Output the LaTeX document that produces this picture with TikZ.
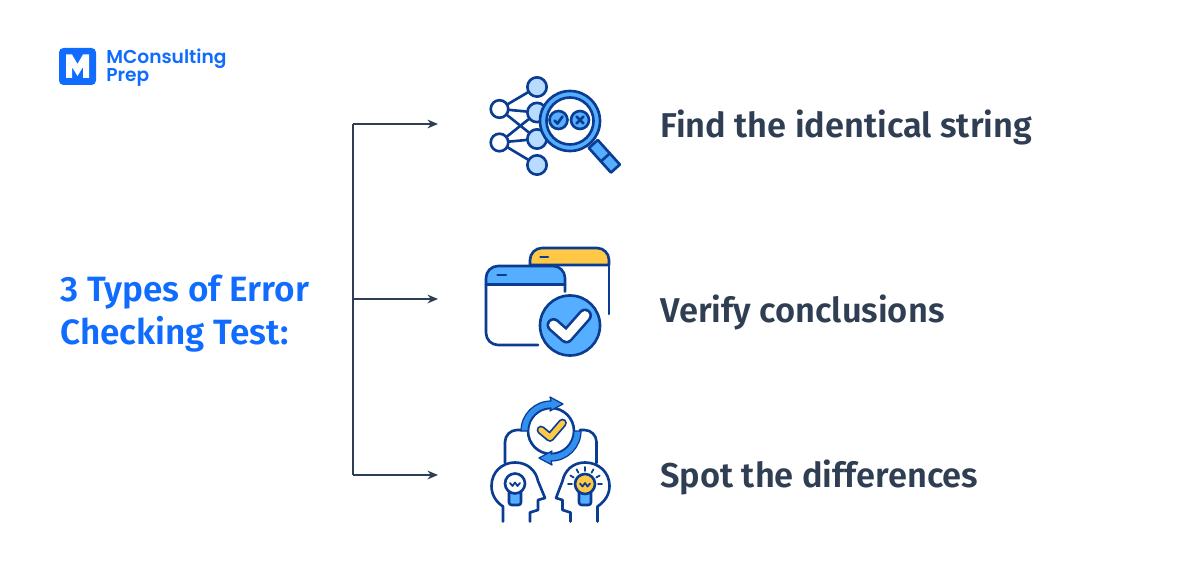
\documentclass[tikz,border=0pt]{standalone}
\usepackage{xcolor}
\usepackage{fontspec}
\usepackage{tikz}
\usetikzlibrary{arrows.meta,calc}
\setmainfont{Fira Sans}[UprightFont=* Medium,BoldFont=* SemiBold]
\newfontfamily\logofont{Poppins}[UprightFont=* SemiBold]
\definecolor{brandblue}{RGB}{15,108,255}
\definecolor{inkblue}{RGB}{10,60,145}
\definecolor{midblue}{RGB}{85,174,255}
\definecolor{ringblue}{RGB}{50,145,240}
\definecolor{paleblue}{RGB}{184,220,255}
\definecolor{warmyellow}{RGB}{255,200,70}
\definecolor{slatetext}{RGB}{47,62,82}
\tikzset{
  inkline/.style={draw=inkblue,line width=1.5pt,line cap=round,line join=round},
  leftdot/.style={circle,inkline,fill=white,minimum size=10pt,inner sep=0pt},
  rightdot/.style={circle,inkline,fill=paleblue,minimum size=11pt,inner sep=0pt},
  rowlabel/.style={anchor=base west,font=\bfseries\fontsize{19.6}{24}\selectfont,text=slatetext,inner sep=0pt},
  headline/.style={anchor=base west,font=\bfseries\fontsize{20}{24}\selectfont,text=brandblue,inner sep=0pt},
  logotext/.style={anchor=base west,font=\logofont\fontsize{10.6}{13}\selectfont,text=brandblue,inner sep=0pt},
  branch/.style={draw=slatetext,line width=0.8pt,-{Stealth[length=6pt,width=5pt]}}
}
\begin{document}
\begin{tikzpicture}[x=0.02cm,y=-0.02cm]
\useasboundingbox (0,0) rectangle (1200,587);
% Logo
\fill[brandblue,rounded corners=2.5pt] (59,48) rectangle (96,85);
\fill[white] (66,78) -- (66,54.5) -- (72,54.5) -- (77.5,64) -- (83,54.5) -- (89,54.5) -- (89,78) -- (83,78)
  -- (83,67) -- (77.5,76) -- (72,67) -- (72,78) -- cycle;
\node[logotext] (logotop) at (106,64) {MConsulting};
\node[logotext] (logobottom) at (106,81.5) {Prep};
% Title
\node[headline] (titletop) at (60,302) {3 Types of Error};
\node[headline] (titlebottom) at (60,345) {Checking Test:};
% Branches
\coordinate (trunktop) at (353,124);
\coordinate (trunkmid) at (353,299);
\coordinate (trunkbottom) at (353,475);
\coordinate (arrowtop) at (438,124);
\coordinate (arrowmid) at (438,299);
\coordinate (arrowbottom) at (438,475);
\draw[draw=slatetext,line width=0.8pt] (trunktop) -- (trunkbottom);
\draw[branch] (trunktop) -- (arrowtop);
\draw[branch] (trunkmid) -- (arrowmid);
\draw[branch] (trunkbottom) -- (arrowbottom);
% Labels
\node[rowlabel] (labeltop) at (660,137.5) {Find the identical string};
\node[rowlabel] (labelmid) at (660,322.5) {Verify conclusions};
\node[rowlabel] (labelbottom) at (660,487.5) {Spot the differences};
% First icon: network
\node[leftdot] (inA) at (499.5,109) {};
\node[leftdot] (inB) at (499.5,142.5) {};
\node[rightdot] (outA) at (537,87) {};
\node[rightdot] (outB) at (537,112.5) {};
\node[rightdot] (outC) at (537,139) {};
\node[rightdot] (outD) at (537,165) {};
\foreach \dst in {outA,outB,outC}
  \draw[inkline] (inA) -- (\dst);
\foreach \dst in {outB,outC,outD}
  \draw[inkline] (inB) -- (\dst);
% First icon: magnifier
\draw[inkline,fill=midblue,rotate around={-48:(596,147)}] (592,141) rectangle (625,153);
\draw[inkline,rotate around={-48:(596,147)}] (610,141) -- (610,153);
\draw[inkline,fill=midblue] (570,121) circle (30);
\draw[inkline,fill=white] (570,121) circle (23.5);
\draw[inkline,fill=midblue] (558.5,120) circle (9);
\draw[inkline,fill=midblue] (580,120) circle (9);
\draw[inkline] (554.5,120.5) -- (557.5,123.5) -- (562.5,116.5);
\draw[inkline] (576.5,116.5) -- (583.5,123.5) (583.5,116.5) -- (576.5,123.5);
% Second icon: back window
\fill[white] (530,265) rectangle (609,314);
\draw[inkline,fill=warmyellow] (530,265) -- (530,260) arc (-180:-90:12) -- (597,248) arc (-90:0:12) -- (609,265) -- cycle;
\draw[inkline] (609,265) -- (609,314);
\draw[inkline] (540.5,257) -- (548,257);
% Second icon: front window
\draw[inkline,fill=white] (538,345) -- (498,345) arc (-270:-180:12) -- (486,284.5) -- (565,284.5) -- (565,291.5);
\draw[inkline,fill=midblue] (486,284.5) -- (486,278) arc (-180:-90:12) -- (553,266) arc (-90:0:12) -- (565,284.5) -- cycle;
\draw[inkline] (497.5,275) -- (506,275);
% Second icon: badge
\draw[inkline,fill=midblue] (570,325.5) circle (30);
\draw[draw=inkblue,line width=8pt,line cap=round,line join=round] (553.5,325) -- (566.5,336.5) -- (585,315.5);
\draw[draw=white,line width=5pt,line cap=round,line join=round] (553.5,325) -- (566.5,336.5) -- (585,315.5);
% Third icon: links to the heads
\draw[inkline] (521.5,430) -- (517,430) arc (-90:-180:12) -- (505,463);
\draw[inkline] (580,430) -- (584.5,430) arc (-90:0:12) -- (596.5,463);
% Third icon: cycle
\draw[inkline,fill=white] (551,431) circle (23);
\draw[draw=inkblue,line width=0.7pt,line join=round,fill=ringblue] (521,431) arc (-180:-90:30) -- (550,397) -- (563,404) -- (550,411) -- (551,408) arc (-90:-180:23) -- cycle;
\draw[draw=inkblue,line width=0.7pt,line join=round,fill=ringblue] (581,431) arc (0:90:30) -- (552,465) -- (539,458) -- (552,451) -- (551,454) arc (90:0:23) -- cycle;
\draw[draw=inkblue,line width=5pt,line cap=round,line join=round] (541,430) -- (550,437.5) -- (562.5,423);
\draw[draw=warmyellow,line width=3pt,line cap=round,line join=round] (541,430) -- (550,437.5) -- (562.5,423);
% Third icon: left head
\draw[inkline,fill=white] (503,521.5) -- (503,506.5) .. controls (495,501) and (491.5,494) .. (491.5,486)
  .. controls (491.5,472) and (502,462.5) .. (515,462.5)
  .. controls (528,462.5) and (536,471) .. (538,481) -- (545,498) -- (538,500) -- (538,510) -- (530,512.5) -- (530,521.5);
\draw[inkline,fill=midblue] (509,492) -- (521,492) [rounded corners=1.5pt] -- (521,505) -- (509,505) [sharp corners] -- cycle;
\draw[inkline,fill=white] (515,483.5) circle (10);
\draw[inkline,line width=1pt] (510,483) -- (512.5,486) -- (515,482.5) -- (517.5,486) -- (520,483);
% Third icon: right head
\draw[inkline,fill=white] (597.5,521.5) -- (597.5,506.5) .. controls (605.5,501) and (609.5,494) .. (609.5,486)
  .. controls (609.5,472) and (598.5,462.5) .. (585,462.5)
  .. controls (572.5,462.5) and (564.5,471) .. (562.5,481) -- (556,498) -- (562.5,500) -- (562.5,510) -- (570.5,512.5) -- (570.5,521.5);
\draw[inkline,fill=midblue] (579,492) -- (591,492) [rounded corners=1.5pt] -- (591,505) -- (579,505) [sharp corners] -- cycle;
\draw[inkline,fill=warmyellow] (585,484) circle (10);
\draw[inkline,line width=1pt] (580,483.5) -- (582.5,486.5) -- (585,483) -- (587.5,486.5) -- (590,483.5);
\foreach \ang in {0,30,60,90,120,150,180}
  \draw[inkline,line width=1pt] ($(585,484)+(-\ang:13)$) -- ($(585,484)+(-\ang:17)$);
\end{tikzpicture}
\end{document}
